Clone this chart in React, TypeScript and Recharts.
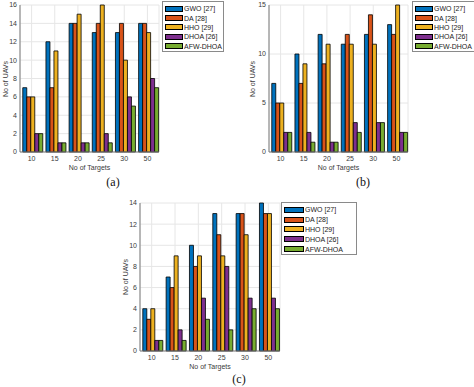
import type { CSSProperties } from "react";
import { Bar, BarChart, CartesianGrid, XAxis, YAxis } from "recharts";

const targets = ["10", "15", "20", "25", "30", "50"];
const seriesNames = ["GWO [27]", "DA [28]", "HHO [29]", "DHOA [26]", "AFW-DHOA"];
const seriesColors = ["#0072BD", "#D95319", "#EDB120", "#7E2F8E", "#77AC30"];

// (a)
const gwoA = [7, 12, 14, 13, 13, 14];
const daA = [6, 7, 14, 14, 14, 14];
const hhoA = [6, 11, 15, 16, 10, 13];
const dhoaA = [2, 1, 1, 2, 6, 8];
const afwA = [2, 1, 1, 1, 5, 7];
const ticksA = [0, 2, 4, 6, 8, 10, 12, 14, 16];

// (b)
const gwoB = [7, 10, 12, 11, 12, 13];
const daB = [5, 7, 9, 12, 14, 12];
const hhoB = [5, 9, 11, 11, 11, 15];
const dhoaB = [2, 2, 1, 3, 3, 2];
const afwB = [2, 1, 1, 2, 3, 2];
const ticksB = [0, 5, 10, 15];

// (c)
const gwoC = [4, 7, 10, 13, 13, 14];
const daC = [3, 6, 8, 11, 13, 13];
const hhoC = [4, 9, 9, 9, 11, 13];
const dhoaC = [1, 2, 5, 8, 5, 5];
const afwC = [1, 1, 3, 2, 4, 4];
const ticksC = [0, 2, 4, 6, 8, 10, 12, 14];

const font = "'Liberation Sans', Arial, sans-serif";
const tickColor = "#3a3a3a";
const axisColor = "#7a7a7a";
const gridColor = "#e6e6e6";

function toRows(series: number[][]) {
  return targets.map((target, i) => {
    const row: Record<string, string | number> = { target };
    series.forEach((values, s) => {
      row[`s${s}`] = values[i];
    });
    return row;
  });
}

type PanelProps = {
  series: number[][];
  ticks: number[];
  chartLeft: number;
  plotLeft: number;
  plotRight: number;
  plotTop: number;
  plotBottom: number;
  yLabelX: number;
  caption: string;
  captionX: number;
  captionY: number;
  legend: { left: number; top: number; width: number; height: number; swatch: number };
};

function Legend({ left, top, width, height, swatch }: PanelProps["legend"]) {
  const rowH = (height - 4) / seriesNames.length;
  return (
    <div
      style={{
        position: "absolute",
        left,
        top,
        width,
        height,
        boxSizing: "border-box",
        border: "1px solid #8a8a8a",
        background: "#fff",
        paddingTop: 2,
      }}
    >
      {seriesNames.map((name, i) => (
        <div
          key={name}
          style={{ display: "flex", alignItems: "center", height: rowH, paddingLeft: 2 }}
        >
          <span
            style={{
              width: swatch,
              height: 6,
              boxSizing: "border-box",
              background: seriesColors[i],
              border: "1px solid #000",
              marginRight: 1,
              flex: "none",
            }}
          />
          <span style={{ fontSize: 7, color: "#222", whiteSpace: "nowrap", lineHeight: 1 }}>
            {name}
          </span>
        </div>
      ))}
    </div>
  );
}

function Panel(p: PanelProps) {
  const data = toRows(p.series);
  const yMax = p.ticks[p.ticks.length - 1];
  const axisH = 20;
  // extra room above the plot so the top tick label is not clipped by the svg
  const padTop = 6;
  const width = p.plotRight - p.chartLeft + 1;
  const height = p.plotBottom + axisH - p.plotTop + padTop;
  const abs: CSSProperties = { position: "absolute" };
  return (
    <>
      <div style={{ ...abs, left: p.chartLeft, top: p.plotTop - padTop }}>
        <BarChart
          width={width}
          height={height}
          data={data}
          margin={{ top: padTop, right: 1, bottom: 0, left: 0 }}
          barCategoryGap="12%"
          barGap={0}
        >
          <CartesianGrid stroke={gridColor} />
          <XAxis
            dataKey="target"
            height={axisH}
            tickLine={false}
            tickSize={0}
            tickMargin={4}
            stroke={axisColor}
            tick={{ fontSize: 7, fill: tickColor, fontFamily: font }}
            label={{
              value: "No of Targets",
              position: "insideBottom",
              offset: 2,
              fontSize: 7,
              fill: tickColor,
              fontFamily: font,
            }}
          />
          <XAxis
            xAxisId="top"
            orientation="top"
            dataKey="target"
            height={0}
            tick={false}
            tickLine={false}
            stroke={axisColor}
          />
          <YAxis
            width={p.plotLeft - p.chartLeft}
            domain={[0, yMax]}
            ticks={p.ticks}
            interval={0}
            tickLine={false}
            tickSize={0}
            tickMargin={3}
            stroke={axisColor}
            tick={{ fontSize: 7, fill: tickColor, fontFamily: font }}
          />
          <YAxis
            yAxisId="right"
            orientation="right"
            width={0}
            domain={[0, yMax]}
            tick={false}
            tickLine={false}
            stroke={axisColor}
          />
          {seriesNames.map((name, s) => (
            <Bar
              key={name}
              dataKey={`s${s}`}
              name={name}
              fill={seriesColors[s]}
              stroke="#000"
              strokeWidth={0.8}
              isAnimationActive={false}
            />
          ))}
        </BarChart>
      </div>
      <div
        style={{
          ...abs,
          left: p.yLabelX,
          top: (p.plotTop + p.plotBottom) / 2,
          transform: "translate(-50%, -50%) rotate(-90deg)",
          fontSize: 7,
          color: tickColor,
          whiteSpace: "nowrap",
        }}
      >
        No of UAVs
      </div>
      <div
        style={{
          ...abs,
          left: p.captionX,
          top: p.captionY,
          transform: "translate(-50%, -50%)",
          fontFamily: "'Liberation Serif', 'Times New Roman', serif",
          fontSize: 12,
          lineHeight: 1,
          color: "#111",
        }}
      >
        {p.caption}
      </div>
      <Legend {...p.legend} />
    </>
  );
}

export default function App() {
  return (
    <div
      style={{
        position: "absolute",
        left: 0,
        top: 0,
        width: 474,
        height: 387,
        overflow: "hidden",
        background: "#fff",
        fontFamily: font,
      }}
    >
      <Panel
        series={[gwoA, daA, hhoA, dhoaA, afwA]}
        ticks={ticksA}
        chartLeft={0}
        plotLeft={20}
        plotRight={159}
        plotTop={5}
        plotBottom={152}
        yLabelX={5}
        caption="(a)"
        captionX={113}
        captionY={182}
        legend={{ left: 162, top: 1, width: 62, height: 51, swatch: 18 }}
      />
      <Panel
        series={[gwoB, daB, hhoB, dhoaB, afwB]}
        ticks={ticksB}
        chartLeft={245}
        plotLeft={269}
        plotRight={408}
        plotTop={5}
        plotBottom={152}
        yLabelX={252}
        caption="(b)"
        captionX={363}
        captionY={182}
        legend={{ left: 412, top: 1, width: 64, height: 51, swatch: 18 }}
      />
      <Panel
        series={[gwoC, daC, hhoC, dhoaC, afwC]}
        ticks={ticksC}
        chartLeft={115}
        plotLeft={140}
        plotRight={280}
        plotTop={203}
        plotBottom={351}
        yLabelX={125}
        caption="(c)"
        captionX={239}
        captionY={379}
        legend={{ left: 281, top: 202, width: 76, height: 53, swatch: 20 }}
      />
    </div>
  );
}
